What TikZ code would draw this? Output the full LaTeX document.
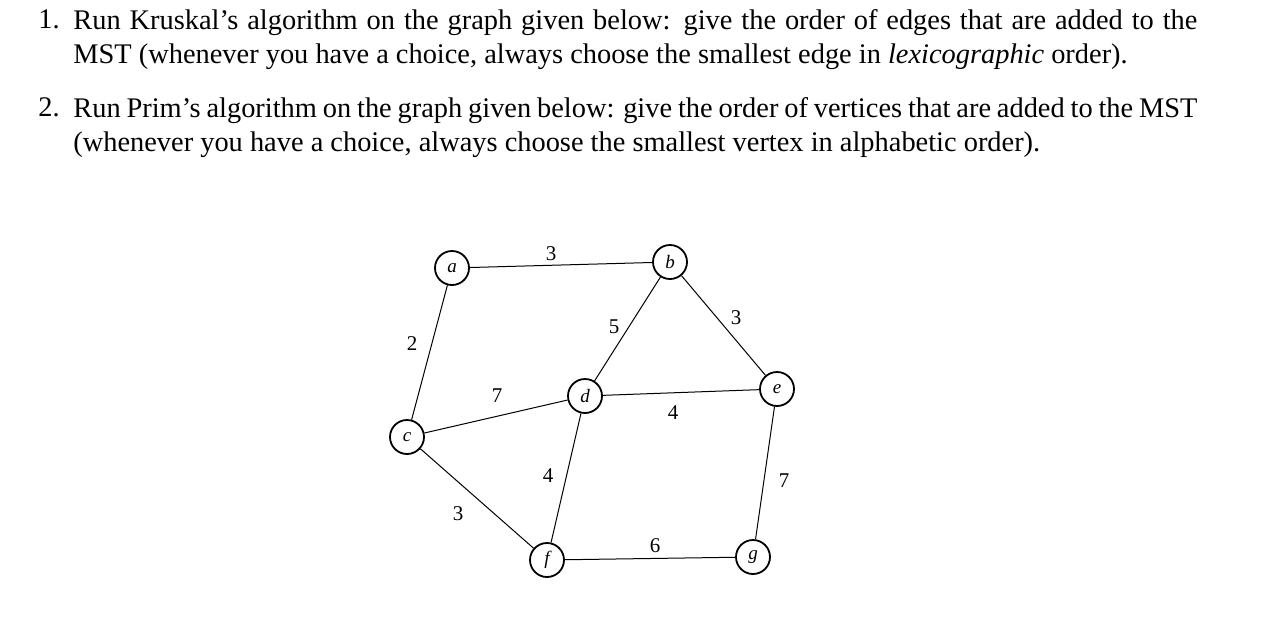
\documentclass[tikz,border=0pt]{standalone}
\usepackage{fontspec}
\setmainfont{Liberation Serif}
\begin{document}
\begin{tikzpicture}[x=0.5pt,y=-0.5pt,
  vtx/.style={circle,draw,line width=0.9pt,minimum size=17pt,inner sep=0pt,font=\fontsize{9.5}{11}\selectfont\itshape},
  wt/.style={font=\fontsize{10.5}{12}\selectfont},
  edge/.style={line width=0.5pt},
  para/.style={anchor=north west,text width=562pt,align=justify,inner sep=0pt,font=\fontsize{14.2}{17.2}\selectfont}]
\useasboundingbox (0,0) rectangle (1276,622);
\node[anchor=north west,inner sep=0pt,font=\fontsize{14.2}{17.2}\selectfont] (n1) at (38,9) {1.};
\node[para] (p1) at (73,9) {Run Kruskal's algorithm on the graph given below: give the order of edges that are added to the MST (whenever you have a choice, always choose the smallest edge in \textit{lexicographic} order).};
\node[anchor=north west,inner sep=0pt,font=\fontsize{14.2}{17.2}\selectfont] (n2) at (38,97) {2.};
\node[para] (p2) at (73,97) {Run Prim's algorithm on the graph given below: give the order of vertices that are added to the MST (whenever you have a choice, always choose the smallest vertex in alphabetic order).};
\node[vtx] (a) at (452,268) {a};
\node[vtx] (b) at (670,262) {b};
\node[vtx] (d) at (585,396) {d};
\node[vtx] (e) at (777,389) {e};
\node[vtx] (c) at (407,437) {c};
\node[vtx] (f) at (547,560) {f};
\node[vtx] (g) at (753,557) {g};
\draw[edge] (a)--(b) (b)--(d) (b)--(e) (a)--(c) (c)--(d) (d)--(e) (c)--(f) (d)--(f) (e)--(g) (f)--(g);
\node[wt] (w1) at (551,254) {3};
\node[wt] (w2) at (614,327) {5};
\node[wt] (w3) at (736,318) {3};
\node[wt] (w4) at (412,344) {2};
\node[wt] (w5) at (497,396) {7};
\node[wt] (w6) at (673,413) {4};
\node[wt] (w7) at (548,476) {4};
\node[wt] (w8) at (784,481) {7};
\node[wt] (w9) at (458,514) {3};
\node[wt] (w10) at (655,546) {6};
\end{tikzpicture}
\end{document}
